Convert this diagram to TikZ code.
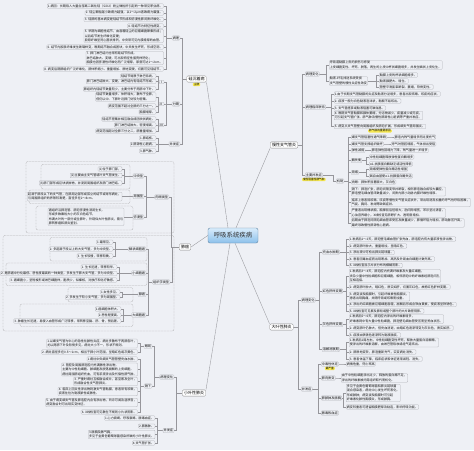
\documentclass[tikz,border=0pt]{standalone}
\usepackage{fontspec}
\setmainfont{Noto Sans CJK SC}
\usetikzlibrary{backgrounds}
\definecolor{bg}{RGB}{238,240,245}
\definecolor{linec}{RGB}{150,150,155}
\definecolor{boxc}{RGB}{178,178,184}
\definecolor{tagc}{RGB}{246,232,80}
\definecolor{cTop}{RGB}{216,236,251}
\definecolor{cBot}{RGB}{140,192,235}
\tikzset{
 conn/.style={draw=linec, line width=0.35pt},
 leaf/.style={draw=boxc, line width=0.25pt, rounded corners=0.8pt, inner sep=0.7pt, font=\fontsize{3.1pt}{4.4pt}\selectfont, text=black!92, fill=bg},
 leafL/.style={leaf, anchor=east, align=left},
 leafR/.style={leaf, anchor=west, align=left},
 sub/.style={leaf, font=\fontsize{3.2pt}{4.4pt}\selectfont},
 subL/.style={sub, anchor=east},
 subR/.style={sub, anchor=west},
 topic/.style={draw=black!45, line width=0.35pt, fill=white, rounded corners=1.2pt, inner xsep=1.8pt, inner ysep=1.3pt, font=\fontsize{4pt}{5pt}\selectfont},
 central/.style={draw=cBot!70!black, line width=0.4pt, top color=cTop, bottom color=cBot, rounded corners=2pt, minimum width=50pt, minimum height=15pt, font=\fontsize{6.4pt}{7pt}\selectfont, text=black!80},
 tag/.style={fill=tagc, rounded corners=1pt, inner xsep=1pt, inner ysep=0.4pt, font=\fontsize{2.7pt}{3pt}\selectfont},
 bound/.style={draw=black!40, dash pattern=on 0.8pt off 0.7pt, line width=0.3pt, rounded corners=2pt},
}
\newcommand\lcn[2]{\draw[conn] (#1.west) -| ([xshift=2.5pt]#2.east) -- (#2.east);}
\newcommand\rcn[2]{\draw[conn] (#1.east) -| ([xshift=-2.5pt]#2.west) -- (#2.west);}
\newcommand\lcns[2]{\foreach \cc in {#2}{\lcn{#1}{\cc}}}
\newcommand\rcns[2]{\foreach \cc in {#2}{\rcn{#1}{\cc}}}
\begin{document}
\begin{tikzpicture}[x=1pt,y=-1pt]
\begin{scope}[on background layer]
\fill[bg] (0,0) rectangle (474,450);
\end{scope}
\useasboundingbox (0,0) rectangle (474,450);

% ---------- central ----------
\node[central] (C) at (233,235.5) {呼吸系统疾病};

% ---------- T1 硅沉着病 ----------
\node[topic] (T1) at (196.5,79) {硅沉着病};
\node[tag, anchor=north] (T1t) at ([yshift=-0.4pt]T1.south) {尘肺};
\node[subL] (T1a) at (180,38) {病理};
\node[subL] (T1b) at (180,104) {分期};
\node[subL] (T1c) at (180,144) {并发症};
\node[leafL] (p1) at (163.5,6) {1.病因：长期吸入大量含游离二氧化硅（SiO2）粉尘微粒所引起的一种常见职业病。};
\node[leafL] (p2) at (163.5,13) {2. 硅尘颗粒越小致病力越强，以1～2μm者致病力最强。};
\node[leafL] (p3) at (163.5,19.5) {3. 硅肺的基本病变是硅结节形成和弥漫性肺间质纤维化。};
\node[leafL] (p4) at (163.5,26) {4. 硅结节为特征性病变。};
\node[leafL] (p5) at (163.5,36) {5. 早期为细胞性结节，由吞噬硅尘的巨噬细胞聚集形成；\\以后结节发生纤维化变硬；\\胶原纤维呈同心圆状排列，中央常可见内膜增厚的血管。};
\node[leafL] (p6) at (163.5,47) {6. 结节内胶原纤维发生玻璃样变，晚期结节融合成团块，中央发生坏死，形成空洞。};
\node[leafL] (p7) at (163.5,58) {7. 肺门淋巴结内也常有硅结节形成，\\淋巴结肿大、变硬，可出现特征性蛋壳样钙化；\\胸膜也因弥漫性纤维化而广泛增厚，厚度可达1～2cm。};
\node[leafL] (p8) at (163.5,69) {8. 病变后期肺组织广泛纤维化，肺体积缩小、重量增加、质地变硬，切面可见硅结节。};
\node[subL] (LI) at (164,82) {Ⅰ};
\node[subL] (LII) at (164,104) {Ⅱ};
\node[subL] (LIII) at (164,125) {Ⅲ};
\node[leafL] (i1) at (156,76) {硅结节局限于淋巴系统。};
\node[leafL] (i2) at (156,81.5) {肺门淋巴结肿大、变硬，淋巴结内有硅结节形成。};
\node[leafL] (i3) at (156,89) {肺组织内硅结节数量较少，主要分布于两肺中下叶。};
\node[leafL] (j1) at (156,97) {硅结节数量增多、体积增大，散布于全肺，\\但仍以中、下肺叶近肺门处较为密集。};
\node[leafL] (j2) at (156,106) {病变范围不超过全肺的三分之一。};
\node[leafL] (j3) at (156,112) {胸膜增厚。};
\node[leafL] (k1) at (156,119) {硅结节密集并相互融合成团块状病灶。};
\node[leafL] (k2) at (156,125) {肺门淋巴结肿大、密度增高。};
\node[leafL] (k3) at (156,131) {病变范围超过全肺三分之二，肺重量增加。};
\node[leafL] (b1) at (156,138) {1.肺结核。};
\node[leafL] (b2) at (156,144.5) {2.肺源性心脏病。};
\node[leafL] (b3) at (156,151) {3.肺气肿。};

% ---------- T2 慢性支气管炎 ----------
\node[topic] (T2) at (284,145) {慢性支气管炎};
\node[subR] (T2a) at (305,74) {病理变化};
\node[subR] (T2b) at (305,107) {病理临床联系};
\node[subR] (T2c) at (305,175) {主要并发症};
\node[tag, anchor=north] (T2ct) at ([yshift=-0.3pt]T2c.south) {慢性阻塞性肺气肿};
\node[leafR] (a1) at (329,65) {呼吸道黏膜上皮的损伤与修复\\上皮细胞变性、坏死、脱落，再生的上皮中杯状细胞增多，并发生鳞状上皮化生。};
\node[leafR] (a2) at (329,81) {黏液-纤毛排送系统受损\\支气管壁的慢性炎症性改变};
\node[leafR] (a2x1) at (379,75) {黏膜上皮的杯状细胞增多。};
\node[leafR] (a2x2) at (379,81) {黏液腺肥大、增生。};
\node[leafR] (a2x3) at (379,87) {管壁平滑肌束断裂、萎缩，软骨变性。};
\node[leafR] (c1) at (334,94) {1.由于长期支气管黏膜的炎症及黏液分泌增多，患者出现咳嗽、咳痰的症状。};
\node[leafR] (c2) at (334,101) {2. 痰液一般为白色黏液泡沫状，黏稠不易咳出。};
\node[leafR] (c3) at (334,108) {3. 支气管痉挛或黏液阻塞可致喘息。};
\node[leafR] (c4) at (334,115.5) {4. 晚期支气管黏膜和腺体萎缩，分泌物减少，痰量减少或无痰，\\可引起支气管扩张、肺气肿及慢性肺源性心脏病等严重并发症。};
\node[leafR] (c5) at (334,126.5) {5. 病变从支气管壁向周围组织及肺泡扩展，形成细支气管周围炎。};
\node[tag, anchor=north] (c5t) at ([yshift=-0.3pt]c5.south) {肺气肿的重要原因};
\node[subR] (JZ) at (336,181) {机制};
\node[leafR] (m1) at (351,137) {细支气管阻塞性通气障碍};
\node[leafR] (m1b) at (394,137) {肺泡内残气量增多而过度充气};
\node[leafR] (m2) at (351,144) {细支气管支撑组织破坏};
\node[leafR] (m2b) at (391,144) {呼气时管腔塌陷，气体排出受阻};
\node[leafR] (m3) at (351,150.5) {弹性减弱};
\node[leafR] (m3b) at (371,150.5) {肺泡弹性回缩力下降，残气量进一步增多};
\node[leafR] (m4) at (351,160.5) {酶失衡};
\node[leafR] (m4a) at (369,157) {中性粒细胞释放弹性蛋白酶增多};
\node[leafR] (m4b) at (369,164) {α1-抗胰蛋白酶缺乏或活性降低};
\node[leafR] (m5) at (351,172.5) {吸烟};
\node[leafR] (m5a) at (369,169) {吸烟使弹性蛋白酶活性增强};
\node[leafR] (m5b) at (369,176) {氧自由基使α1-抗胰蛋白酶失活};
\node[leafR] (m6) at (351,182) {肉眼：肺体积显著膨大，灰白色};
\node[leafR] (m7) at (351,191.5) {镜下：肺泡扩张，肺泡间隔变窄并断裂，相邻肺泡融合成较大囊腔，\\肺泡壁毛细血管床数量减少，间质内肺小动脉内膜纤维性增厚。};
\node[leafR] (m8) at (351,202.5) {临床上患者除咳嗽、咳痰等慢性支气管炎症状外，常出现逐渐加重的呼气性呼吸困难，\\气促、胸闷、发绀等缺氧症状。};
\node[leafR] (m9) at (351,213) {严重者出现桶状胸，胸廓前后径增大，肋间隙增宽，叩诊呈过清音，\\心浊音界缩小，X线检查见肺野扩大、透明度增加。};
\node[leafR] (m10) at (351,223) {后期由于肺泡间隔毛细血管床受压及数量减少，肺循环阻力增加，肺动脉压升高，\\最终导致慢性肺源性心脏病。};

% ---------- T3 肺癌 ----------
\node[topic] (T3) at (185,247) {肺癌};
\node[subL] (F1) at (169,197) {肉眼类型};
\node[subL] (F2) at (170,282) {组织学类型};
\node[subL] (ZY) at (144,176) {中央型};
\node[subL] (ZW) at (144,196.5) {周围型};
\node[subL] (MM) at (144,217) {弥漫型};
\node[leafL] (z1) at (122,169) {(1)位于肺门部，};
\node[leafL] (z2) at (122,175.5) {(2)主要由主支气管或叶支气管发生。};
\node[leafL] (z3) at (122,183) {(3)肺门部形成巨块状肿物，并浸润周围组织及肺门淋巴结。};
\node[leafL] (w1) at (122,196.5) {起源于肺段以下的支气管，在肺周边部形成孤立的结节或球形病灶，\\与周围肺组织的界限较清楚，直径多在2～8cm。};
\node[leafL] (d1) at (124,216.75) {癌组织沿肺泡管、肺泡弥漫性浸润生长，\\形成多数粟粒大小的灰白色结节，\\布满大叶的一部分或全肺叶，外观似大叶性肺炎，需与\\肺转移癌和肺炎鉴别。};
\node[subL] (LS) at (146,249) {鳞状细胞癌};
\node[subL] (XB) at (146,273) {小细胞癌};
\node[subL] (XA) at (146,294.5) {腺癌};
\node[subL] (DX) at (146,315) {大细胞癌};
\node[leafL] (ls1) at (113,242) {1.最常见。};
\node[leafL] (ls2) at (113,249) {2. 多起源于段以上的大支气管，多为中央型。};
\node[leafL] (ls3) at (113,256) {3. 生长较慢，转移较晚。};
\node[leafL] (xb1) at (117,267) {1. 生长迅速，转移较早。};
\node[leafL] (xb2) at (117,273.5) {2. 是肺癌中分化最低、恶性度最高的一种类型，多发生于肺大支气管，多为中央型。};
\node[leafL] (xb3) at (117,280) {3. 癌细胞小，呈短梭形或淋巴细胞样，胞质少，似裸核，对放疗和化疗敏感。};
\node[leafL] (xa1) at (120,292) {1.女性多见。};
\node[leafL] (xa2) at (120,297.5) {2. 多发生于较小支气管，多为周围型。};
\node[leafL] (dx1) at (121,309) {1.癌细胞体积大。};
\node[leafL] (dx2) at (121,315) {2.恶性程度高。};
\node[leafL] (dx3) at (121,321) {3. 肿瘤生长迅速，易侵入血管形成广泛转移，常转移至脑、肝、骨，预后差。};

% ---------- T4 大叶性肺炎 ----------
\node[topic] (T4) at (281.5,327) {大叶性肺炎};
\node[subR] (T4a) at (301,300) {病理变化};
\node[subR] (T4b) at (301,389) {并发症};
\node[subR] (S1) at (322,252) {充血水肿期};
\node[subR] (S2) at (322,291) {红色肝样变期};
\node[subR] (S3) at (322,324.5) {灰色肝样变期};
\node[subR] (S4) at (322,349.5) {溶解消散期};
\node[leafR] (e1) at (349,239) {1.发病后1～2天，肺泡壁毛细血管扩张充血，肺泡腔内有大量浆液性渗出物。};
\node[leafR] (e2) at (349,246) {2. 病变肺叶肿大，重量增加，呈暗红色。};
\node[leafR] (e3) at (349,252.5) {3. 渗出液中可检出肺炎链球菌。};
\node[leafR] (e4) at (349,259) {4. 患者因毒血症而出现寒战、高热及外周血白细胞计数升高。};
\node[leafR] (e5) at (349,265.5) {5. X线检查显示片状分布的模糊阴影。};
\node[leafR] (r1) at (349,276) {1.发病后3～4天，肺泡腔内充满纤维素及大量红细胞，\\夹杂少量中性粒细胞和巨噬细胞，相邻肺泡中的纤维素经肺泡间孔\\互相连接。};
\node[leafR] (r2) at (349,287) {2. 病变肺叶肿大，暗红色，质实如肝，切面灰红色，故称红色肝样变期。};
\node[leafR] (r3) at (349,296.5) {3. 病变波及胸膜时，引起纤维素性胸膜炎，\\患者出现胸痛，并随呼吸或咳嗽而加重。};
\node[leafR] (r4) at (349,304.5) {4. 渗出的红细胞被巨噬细胞吞噬，崩解后形成含铁血黄素，使痰液呈铁锈色。};
\node[leafR] (r5) at (349,311) {5. X线检查可见累及肺段或整个肺叶的大片致密阴影。};
\node[leafR] (g1) at (349,319) {1.发病后5～6天，肺泡腔内渗出的纤维素增多，\\纤维素网中有大量中性粒细胞，肺泡壁毛细血管受压而呈贫血状态。};
\node[leafR] (g2) at (349,328) {2. 病变肺叶仍肿大，但充血消退，由暗红色逐渐转变为灰白色，质实如肝。};
\node[leafR] (g3) at (349,335) {3. 痰液由铁锈色逐渐转为黏液脓痰。};
\node[leafR] (x1) at (349,342.5) {1.发病后1周左右，中性粒细胞变性坏死，释放大量蛋白溶解酶，\\使渗出的纤维素溶解，由淋巴管吸收或经气道咳出。};
\node[leafR] (x2) at (349,352) {2. 肺质地变软，肺泡重新充气，实变病灶消失。};
\node[leafR] (x3) at (349,359) {3. 患者体温下降，临床症状和体征逐渐减轻、消失。};
\node[subR] (N1) at (321,364) {中毒性休克};
\node[tag, anchor=north] (N1t) at ([yshift=-0.3pt]N1.south) {最严重};
\node[leafR] (N1c) at (346,364) {病情危重，死亡率高};
\node[subR] (N2) at (321,378) {肺肉质变};
\node[leafR] (N2c) at (341,378) {由于中性粒细胞渗出过少，释放的蛋白酶不足，\\渗出的纤维素被肉芽组织取代而机化。};
\node[subR] (N3) at (321,398) {肺脓肿及脓胸};
\node[leafR] (N3c1) at (346,393) {多见于金黄色葡萄球菌和肺炎链球菌\\混合感染者，病灶中心发生坏死液化，\\形成脓肿；病变波及胸膜时可引起\\纤维素化脓性胸膜炎，形成脓胸。};
\node[leafR] (N3c2) at (346,407) {病变较重者可遗留胸膜肥厚及粘连，影响呼吸功能。};
\node[subR] (N4) at (321,413) {脓毒败血症};

% ---------- T5 小叶性肺炎 ----------
\node[topic] (T5) at (194,393) {小叶性肺炎};
\node[subL] (T5a) at (174,377) {病理变化};
\node[subL] (T5b) at (174,430.5) {并发症};
\node[subL] (Y1) at (152,346.5) {眼观};
\node[subL] (Y2) at (152,386) {镜下};
\node[leafL] (y1a) at (137.5,343.5) {1.以细支气管为中心的急性化脓性炎症，病灶多散布于两肺各叶，\\尤以两肺下叶及背侧多见，病灶大小不一，形状不规则。};
\node[leafL] (y1b) at (137.5,352) {2. 病灶直径多在0.5～1cm，相当于肺小叶范围，呈暗红色或灰黄色。};
\node[leafL] (y2a) at (137.5,359) {1.病灶中央细支气管管壁充血水肿。};
\node[leafL] (y2b) at (137.5,369.5) {2. 管腔及周围肺泡腔内充满脓性渗出物，\\主要为中性粒细胞、脓细胞及脱落崩解的上皮细胞，\\病灶周围肺组织充血，可有浆液渗出及代偿性肺气肿。};
\node[leafL] (y2c) at (137.5,381.5) {3. 严重时病灶互相融合成片，甚至累及全叶，\\形成融合性支气管肺炎。};
\node[leafL] (y2d) at (137.5,391.5) {4. 临床上因炎性渗出物刺激支气管黏膜，患者常有咳嗽，\\痰液往往为黏液脓性或脓性。};
\node[leafL] (y2e) at (137.5,402.5) {5. 由于病变细支气管及肺泡腔内含有渗出物，听诊可闻及湿啰音，\\病变融合时可出现实变体征。};
\node[leafL] (y2f) at (137.5,412) {6. X线检查可见散在不规则小片状阴影。};
\node[leafL] (q1) at (155,418) {1.心力衰竭、呼吸衰竭、脓毒血症。};
\node[leafL] (q2) at (155,426) {2.肺脓肿。};
\node[leafL] (q3) at (155,434.5) {3.脓胸及脓气胸，\\多见于金黄色葡萄球菌感染所致的小叶性肺炎。};
\node[leafL] (q4) at (155,443) {4.支气管扩张。};

% ---------- boundaries and connectors ----------
\begin{scope}[on background layer]
\draw[bound] (26,161.5) rectangle (174,233);
\draw[bound] (41,164.5) rectangle (130,189);
\draw[bound] (29,190) rectangle (130,203.5);
\draw[bound] (36,206) rectangle (133,230);
\draw[bound] (3,235.5) rectangle (174,331);
\draw[bound] (50,237.5) rectangle (147,261);
\draw[bound] (6,263) rectangle (147,285.5);
\draw[bound] (68,287.5) rectangle (133,302);
\draw[bound] (20,304) rectangle (133,326.5);

\draw[conn] ([xshift=-5pt]C.north) -- (T1.south east);
\draw[conn] ([xshift=3pt]C.north) -- (T2.south west);
\draw[conn] (C.west) -- (T3.east);
\draw[conn] ([xshift=2pt]C.south) -- (T4.north west);
\draw[conn] ([xshift=-3pt]C.south) -- (T5.north east);

\lcns{T1}{T1a,T1b,T1c}
\lcns{T1a}{p1,p2,p3,p4,p5,p6,p7,p8}
\lcns{T1b}{LI,LII,LIII}
\lcns{LI}{i1,i2,i3}
\lcns{LII}{j1,j2,j3}
\lcns{LIII}{k1,k2,k3}
\lcns{T1c}{b1,b2,b3}

\rcns{T2}{T2a,T2b,T2c}
\rcns{T2a}{a1,a2}
\rcns{a2}{a2x1,a2x2,a2x3}
\rcns{T2b}{c1,c2,c3,c4,c5}
\rcn{T2c}{JZ}
\rcns{JZ}{m1,m2,m3,m4,m5,m6,m7,m8,m9,m10}
\rcn{m1}{m1b}
\rcn{m2}{m2b}
\rcn{m3}{m3b}
\rcns{m4}{m4a,m4b}
\rcns{m5}{m5a,m5b}

\lcns{T3}{F1,F2}
\lcns{F1}{ZY,ZW,MM}
\lcns{ZY}{z1,z2,z3}
\lcn{ZW}{w1}
\lcn{MM}{d1}
\lcns{F2}{LS,XB,XA,DX}
\lcns{LS}{ls1,ls2,ls3}
\lcns{XB}{xb1,xb2,xb3}
\lcns{XA}{xa1,xa2}
\lcns{DX}{dx1,dx2,dx3}

\rcns{T4}{T4a,T4b}
\rcns{T4a}{S1,S2,S3,S4}
\rcns{S1}{e1,e2,e3,e4,e5}
\rcns{S2}{r1,r2,r3,r4,r5}
\rcns{S3}{g1,g2,g3}
\rcns{S4}{x1,x2,x3}
\rcns{T4b}{N1,N2,N3,N4}
\rcn{N1}{N1c}
\rcn{N2}{N2c}
\rcns{N3}{N3c1,N3c2}

\lcns{T5}{T5a,T5b}
\lcns{T5a}{Y1,Y2}
\lcns{Y1}{y1a,y1b}
\lcns{Y2}{y2a,y2b,y2c,y2d,y2e,y2f}
\lcns{T5b}{q1,q2,q3,q4}
\end{scope}
\end{tikzpicture}
\end{document}
